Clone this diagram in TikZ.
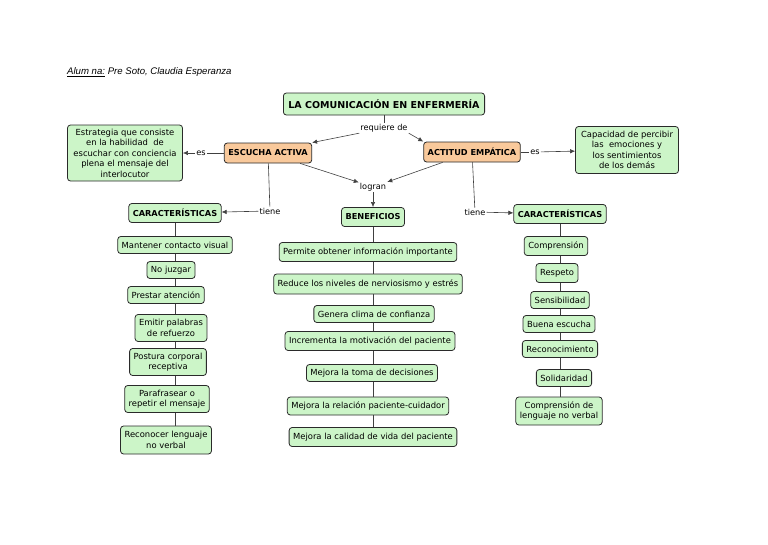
\documentclass[tikz,border=0pt]{standalone}
\usepackage{fontspec}
\usetikzlibrary{arrows.meta}
\setmainfont{DejaVu Sans}
\newfontfamily\headfont{Liberation Sans}
\definecolor{boxgreen}{HTML}{CCF5C8}
\definecolor{boxorange}{HTML}{F9C99B}
\definecolor{boxline}{HTML}{2A2A2A}
\begin{document}
\begin{tikzpicture}[x=1pt,y=-1pt]
\tikzstyle{box}=[draw=boxline,line width=0.8pt,fill=boxgreen,rounded corners=3pt,align=center,inner xsep=4pt,inner ysep=3pt,minimum height=17pt,font=\fontsize{8.4}{10.5}\selectfont];
\tikzstyle{two}=[box,minimum height=27pt];
\tikzstyle{head}=[box,font=\fontsize{8.2}{10}\selectfont\bfseries];
\tikzstyle{main}=[head,fill=boxorange];
\tikzstyle{lab}=[inner sep=1pt,font=\fontsize{8.2}{10}\selectfont];
\tikzstyle{line}=[draw=black!75,line width=0.6pt];
\tikzstyle{arr}=[line,-{Latex[length=5pt,width=4.5pt]}];
\useasboundingbox (0,0) rectangle (768,544);

\node [anchor=west,inner sep=0pt,font=\headfont\fontsize{9.6}{11}\selectfont\itshape] (alum) at (67,72) {\underline{Alum na:} Pre Soto, Claudia Esperanza};

\node [head,font=\fontsize{9.5}{11}\selectfont\bfseries,minimum height=22pt,inner xsep=5pt] (tit) at (384,104) {LA COMUNICACIÓN EN ENFERMERÍA};
\node [lab] (req) at (384,128) {requiere de};
\node [main,minimum height=20pt] (ea) at (268,153) {ESCUCHA ACTIVA};
\node [main,minimum height=20pt] (ae) at (472,152) {ACTITUD EMPÁTICA};
\node [box,minimum width=115pt,minimum height=56pt] (estr) at (125,153) {Estrategia que consiste\\en la habilidad~ de\\escuchar con conciencia\\plena el mensaje del\\interlocutor};
\node [box,minimum width=103pt,minimum height=47pt] (cap) at (627,150) {Capacidad de percibir\\las~ emociones y\\los sentimientos\\de los demás};
\node [lab] (esL) at (201,153) {es};
\node [lab] (esR) at (535,152) {es};
\node [lab] (logran) at (373,187) {logran};
\node [head,minimum height=19pt] (ben) at (373,217) {BENEFICIOS};
\node [lab] (tieneL) at (270,211) {tiene};
\node [lab] (tieneR) at (475,212) {tiene};
\node [head,minimum height=19pt] (carL) at (175,213) {CARACTERÍSTICAS};
\node [head,minimum height=19pt] (carR) at (560,214) {CARACTERÍSTICAS};

% escucha activa
\node [box] (l1) at (175,245) {Mantener contacto visual};
\node [box] (l2) at (171,270) {No juzgar};
\node [box] (l3) at (166,295) {Prestar atención};
\node [two] (l4) at (171,328) {Emitir palabras\\de refuerzo};
\node [two] (l5) at (168,362) {Postura corporal\\receptiva};
\node [two] (l6) at (167,399) {Parafrasear o\\repetir el mensaje};
\node [two,minimum height=28pt] (l7) at (166,440) {Reconocer lenguaje\\no verbal};

% beneficios
\node [box,minimum height=19pt] (b1) at (368,252) {Permite obtener información importante};
\node [box,minimum height=20pt] (b2) at (368,284) {Reduce los niveles de nerviosismo y estrés};
\node [box] (b3) at (374,314) {Genera clima de confianza};
\node [box,minimum height=19pt] (b4) at (370,341) {Incrementa la motivación del paciente};
\node [box] (b5) at (372,373) {Mejora la toma de decisiones};
\node [box,minimum height=18pt] (b6) at (368,406) {Mejora la relación paciente-cuidador};
\node [box,minimum height=19pt] (b7) at (373,437) {Mejora la calidad de vida del paciente};

% actitud empatica
\node [box,minimum height=19pt] (r1) at (556,246) {Comprensión};
\node [box,minimum height=19pt] (r2) at (557,273) {Respeto};
\node [box] (r3) at (560,300) {Sensibilidad};
\node [box] (r4) at (559,324) {Buena escucha};
\node [box] (r5) at (560,349) {Reconocimiento};
\node [box] (r6) at (564,378) {Solidaridad};
\node [two,minimum height=28pt] (r7) at (559,411) {Comprensión de\\lenguaje no verbal};

\draw [line] (tit) -- (req);
\draw [arr] (req.south west) -- (ea.north east);
\draw [arr] (req.south east) -- (ae.north west);
\draw [line] (ea) -- (esL);
\draw [arr] (esL) -- (estr);
\draw [line] (ae) -- (esR);
\draw [arr] (esR) -- (cap);
\draw [arr] (ea) -- (logran);
\draw [arr] (ae) -- (logran);
\draw [arr] (logran) -- (ben);
\draw [line] (ea) -- (tieneL);
\draw [arr] (tieneL) -- (carL);
\draw [line] (ae) -- (tieneR);
\draw [arr] (tieneR) -- (carR);

\draw [line] (carL.south) -- (l1.north -| carL.south);
\draw [line] (l1.south -| carL.south) -- (l2.north -| carL.south);
\draw [line] (l2.south -| carL.south) -- (l3.north -| carL.south);
\draw [line] (l3.south -| carL.south) -- (l4.north -| carL.south);
\draw [line] (l4.south -| carL.south) -- (l5.north -| carL.south);
\draw [line] (l5.south -| carL.south) -- (l6.north -| carL.south);
\draw [line] (l6.south -| carL.south) -- (l7.north -| carL.south);

\draw [line] (ben.south) -- (b1.north -| ben.south);
\draw [line] (b1.south -| ben.south) -- (b2.north -| ben.south);
\draw [line] (b2.south -| ben.south) -- (b3.north -| ben.south);
\draw [line] (b3.south -| ben.south) -- (b4.north -| ben.south);
\draw [line] (b4.south -| ben.south) -- (b5.north -| ben.south);
\draw [line] (b5.south -| ben.south) -- (b6.north -| ben.south);
\draw [line] (b6.south -| ben.south) -- (b7.north -| ben.south);

\draw [line] (carR.south) -- (r1.north -| carR.south);
\draw [line] (r1.south -| carR.south) -- (r2.north -| carR.south);
\draw [line] (r2.south -| carR.south) -- (r3.north -| carR.south);
\draw [line] (r3.south -| carR.south) -- (r4.north -| carR.south);
\draw [line] (r4.south -| carR.south) -- (r5.north -| carR.south);
\draw [line] (r5.south -| carR.south) -- (r6.north -| carR.south);
\draw [line] (r6.south -| carR.south) -- (r7.north -| carR.south);
\end{tikzpicture}
\end{document}
